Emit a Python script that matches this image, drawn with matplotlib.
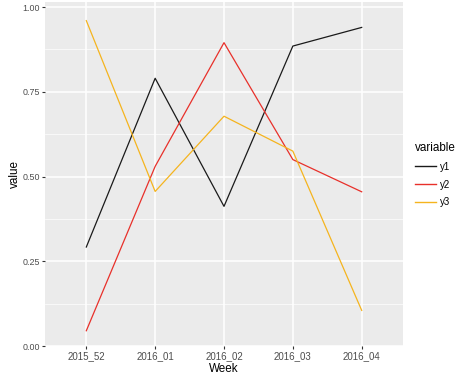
import numpy as np
import matplotlib
matplotlib.use("Agg")
import matplotlib.pyplot as plt

plt.rcParams["font.family"] = ["Liberation Sans", "DejaVu Sans"]

weeks = ["2015_52", "2016_01", "2016_02", "2016_03", "2016_04"]
y1 = [0.292, 0.790, 0.412, 0.885, 0.940]
y2 = [0.045, 0.530, 0.895, 0.550, 0.455]
y3 = [0.960, 0.456, 0.678, 0.575, 0.105]
series = {"y1": y1, "y2": y2, "y3": y3}
colors = {"y1": "#1a1a1a", "y2": "#e8302a", "y3": "#f5b41e"}
yticks = [0.0, 0.25, 0.5, 0.75, 1.0]
ytick_labels = ["0.00", "0.25", "0.50", "0.75", "1.00"]

W, H = 474, 380
fig = plt.figure(figsize=(W / 100, H / 100), dpi=100)
ax = fig.add_axes([45 / W, 1 - 346 / H, 358 / W, 344 / H])
ax.set_facecolor("#ebebeb")

x = np.arange(len(weeks))
for name, vals in series.items():
    ax.plot(x, vals, color=colors[name], lw=0.9, label=name)

ax.set_xlim(-0.6, len(weeks) - 1 + 0.6)
ax.set_ylim(0, 1.015)
ax.set_xticks(x)
ax.set_xticklabels(weeks)
ax.set_yticks(yticks)
ax.set_yticklabels(ytick_labels)
ax.set_yticks([0.125, 0.375, 0.625, 0.875], minor=True)

ax.grid(True, which="major", color="white", lw=1.1)
ax.grid(True, which="minor", axis="y", color="white", lw=0.5)
ax.set_axisbelow(True)
for s in ax.spines.values():
    s.set_visible(False)
ax.tick_params(axis="both", which="major", colors="#333333", length=2.3, width=0.8,
               labelcolor="#4d4d4d", pad=1.5)
ax.tick_params(axis="x", labelsize=7.0)
ax.tick_params(axis="y", labelsize=6.4)
ax.tick_params(axis="y", which="minor", length=0)

ax.set_xlabel("Week", fontsize=8.4, color="black", labelpad=1)
ax.set_ylabel("value", fontsize=8.4, color="black", labelpad=1)

leg = ax.legend(title="variable", loc="upper left", bbox_to_anchor=(413 / W, 1 - 140 / H),
                bbox_transform=fig.transFigure,
                frameon=False, fontsize=7.0, title_fontsize=8.4, handlelength=2.2,
                borderaxespad=0.0, borderpad=0.2, labelspacing=0.8, handletextpad=0.35)
leg._legend_box.align = "left"
for h in leg.legend_handles:
    h.set_linewidth(1.0)

fig.savefig("out.png", dpi=100)
